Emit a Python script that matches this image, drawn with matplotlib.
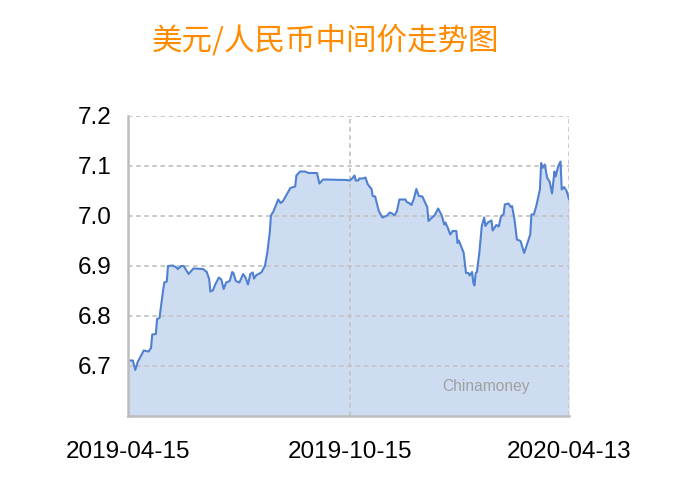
import matplotlib
matplotlib.use("Agg")
import matplotlib.pyplot as plt
import numpy as np
import pandas as pd

title = "美元/人民币中间价走势图"
start_date = "2019-04-15"
# days since 2019-04-15
day_offsets = [0, 4, 6, 8, 13, 17, 19, 20, 23, 24, 26, 29, 30, 32, 33, 37, 40, 41, 44, 46,
               50, 54, 62, 65, 67, 68, 70, 72, 75, 77, 79, 81, 84, 86, 87, 89, 92, 95, 97, 99,
               101, 103, 104, 106, 110, 113, 115, 117, 118, 120, 124, 126, 128, 131, 134, 138, 139, 142, 146, 149,
               156, 158, 161, 180, 183, 185, 187, 188, 190, 191, 194, 196, 198, 201, 202, 204, 207, 210, 214, 216,
               218, 220, 222, 224, 229, 230, 232, 234, 236, 238, 240, 243, 245, 247, 248, 251, 253, 256, 259, 261,
               262, 264, 266, 268, 271, 272, 273, 277, 279, 281, 282, 284, 285, 286, 287, 288, 290, 292, 294, 295,
               297, 300, 301, 304, 306, 308, 310, 311, 314, 316, 317, 319, 321, 324, 326, 327, 329, 332, 333, 335,
               337, 340, 341, 342, 344, 346, 348, 350, 352, 353, 355, 357, 358, 360, 362, 364]
rates = [6.711, 6.711, 6.692, 6.708, 6.731, 6.729, 6.736, 6.763, 6.764, 6.794, 6.796, 6.852, 6.867, 6.869, 6.900, 6.901, 6.897, 6.894, 6.900, 6.900,
         6.884, 6.895, 6.894, 6.888, 6.874, 6.849, 6.851, 6.863, 6.877, 6.873, 6.854, 6.867, 6.870, 6.888, 6.886, 6.870, 6.867, 6.884, 6.877, 6.863,
         6.884, 6.887, 6.875, 6.882, 6.887, 6.900, 6.927, 6.967, 7.001, 7.009, 7.033, 7.026, 7.030, 7.043, 7.056, 7.059, 7.081, 7.089, 7.089, 7.086,
         7.086, 7.065, 7.073, 7.072, 7.071, 7.075, 7.081, 7.071, 7.071, 7.075, 7.075, 7.077, 7.063, 7.054, 7.040, 7.039, 7.010, 6.997, 7.001, 7.007,
         7.005, 7.001, 7.010, 7.033, 7.033, 7.028, 7.026, 7.022, 7.035, 7.054, 7.040, 7.039, 7.028, 7.018, 6.990, 6.997, 7.001, 7.015, 7.001, 6.983,
         6.987, 6.976, 6.963, 6.970, 6.970, 6.946, 6.951, 6.927, 6.886, 6.886, 6.881, 6.888, 6.867, 6.861, 6.886, 6.888, 6.927, 6.980, 6.997, 6.980,
         6.987, 6.991, 6.971, 6.982, 6.979, 7.000, 7.003, 7.023, 7.025, 7.018, 7.020, 6.993, 6.953, 6.950, 6.934, 6.926, 6.941, 6.963, 7.003, 7.003,
         7.020, 7.053, 7.106, 7.096, 7.103, 7.076, 7.069, 7.045, 7.089, 7.079, 7.099, 7.109, 7.053, 7.058, 7.050, 7.034]
x_tick_labels = ["2019-04-15", "2019-10-15", "2020-04-13"]
y_ticks = [6.7, 6.8, 6.9, 7.0, 7.1, 7.2]
y_min, y_max = 6.6, 7.2
watermark = "Chinamoney"

dates = pd.Timestamp(start_date) + pd.to_timedelta(day_offsets, unit="D")
xt = pd.to_datetime(x_tick_labels)

plt.rcParams['font.family'] = ['Liberation Sans', 'DejaVu Sans']

fig = plt.figure(figsize=(6.78, 4.87), dpi=100)
ax = fig.add_axes([128/678, 1-416/487, (569-128)/678, (416-116)/487])

line_color = "#4f80d2"
fill_color = "#cddcf0"
ax.fill_between(dates, rates, y_min, color=fill_color, lw=0, zorder=1)
ax.plot(dates, rates, color=line_color, lw=1.5, zorder=3)

ax.set_xlim(xt[0], xt[-1])
ax.set_ylim(y_min, y_max)
ax.set_xticks(xt)
ax.set_xticklabels(x_tick_labels)
ax.set_yticks(y_ticks)
ax.set_yticklabels([f"{v:.1f}" for v in y_ticks])
ax.tick_params(axis='both', length=0, labelsize=17.5, colors='black')
ax.tick_params(axis='x', pad=18)
ax.tick_params(axis='y', pad=12)

ax.set_axisbelow(False)
ax.grid(True, color="#c4c4c4", lw=1.3, linestyle=(0, (2.5, 2)), zorder=2)

for s in ['top', 'right']:
    ax.spines[s].set_visible(False)
for s in ['left', 'bottom']:
    ax.spines[s].set_color("#bdbdbd")
    ax.spines[s].set_linewidth(1.8)
    ax.spines[s].set_zorder(4)

ax.text(442/678, 1-386/487, watermark, transform=fig.transFigure, fontsize=11.2,
        color="#a0a0a0", ha='left', va='center', zorder=5)

fig.text(326/678, 1-40.5/487, title, fontsize=22, color="#ff8c00", ha='center', va='center',
         family=['Noto Sans CJK SC', 'DejaVu Sans'])

fig.savefig("out.png", dpi=100)
